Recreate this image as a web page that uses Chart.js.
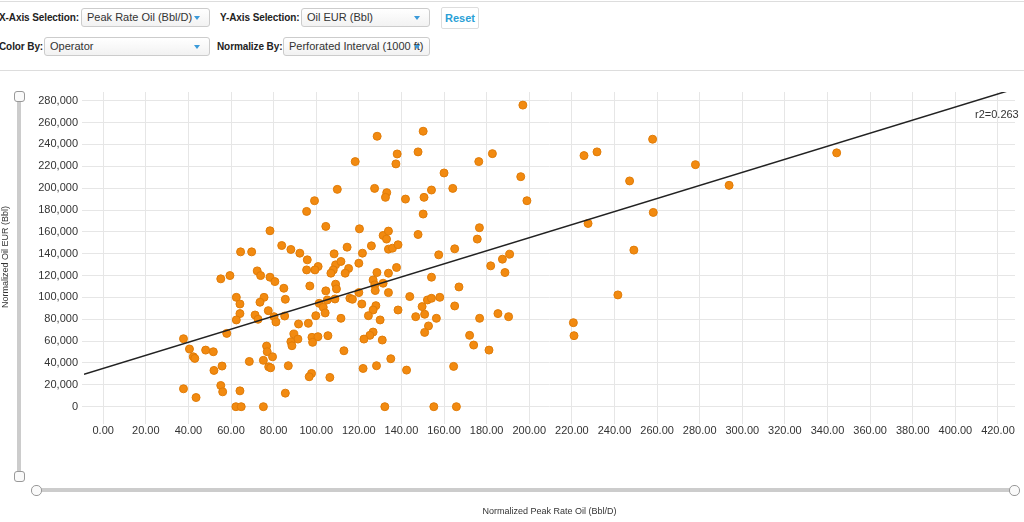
<!DOCTYPE html>
<html>
<head>
<meta charset="utf-8">
<script src="https://cdn.jsdelivr.net/npm/chart.js@4/dist/chart.umd.min.js"></script>
<style>
  body { margin: 0; width: 1024px; height: 522px; overflow: hidden; background: #fff; font-family: "Liberation Sans", Arial, sans-serif; font-size: 11px; color: #222; position: relative; }
  .topline { position: absolute; left: 0; top: 1px; width: 1024px; height: 1px; background: #ddd; }
  .sep { position: absolute; left: 0; top: 70px; width: 1024px; height: 1px; background: #ddd; }
  .lbl { position: absolute; font-weight: bold; font-size: 10px; letter-spacing: -0.1px; }
  .sel { position: absolute; height: 17px; border: 1px solid #ccc; border-radius: 3px; background: linear-gradient(#fff, #f2f2f2); line-height: 17px; padding-left: 5px; box-sizing: content-box; color: #333; }
  .sel:after { content: ""; position: absolute; right: 9px; top: 7px; border-left: 3px solid transparent; border-right: 3px solid transparent; border-top: 4px solid #3a9ad9; }
  .btn { position: absolute; left: 441px; top: 7px; width: 36px; height: 20px; border: 1px solid #ddd; border-radius: 2px; color: #2a9fd6; font-weight: bold; text-align: center; line-height: 20px; background: #fff; }
  #wrap { position: absolute; left: 0; top: 80px; width: 1024px; height: 440px; }
  .r2 { position: absolute; left: 975px; top: 108px; font-size: 11px; color: #333; }
  .vtrack { position: absolute; left: 17px; top: 98px; width: 4px; height: 378px; background: #ccc; }
  .htrack { position: absolute; left: 36px; top: 488px; width: 979px; height: 4px; background: #ccc; }
  .handle { position: absolute; width: 9px; height: 9px; border: 1px solid #999; border-radius: 3px; background: #fafafa; }
</style>
</head>
<body>
<div class="topline"></div>
<div class="lbl" style="left:-1px;top:12px">X-Axis Selection:</div>
<div class="sel" style="left:81px;top:8px;width:122px">Peak Rate Oil (Bbl/D)</div>
<div class="lbl" style="left:220px;top:12px">Y-Axis Selection:</div>
<div class="sel" style="left:301px;top:8px;width:122px">Oil EUR (Bbl)</div>
<div class="btn">Reset</div>
<div class="lbl" style="left:-1px;top:41px">Color By:</div>
<div class="sel" style="left:44px;top:37px;width:159px">Operator</div>
<div class="lbl" style="left:217px;top:41px">Normalize By:</div>
<div class="sel" style="left:283px;top:37px;width:140px">Perforated Interval (1000 ft)</div>
<div class="sep"></div>
<div id="wrap"><canvas id="myChart" width="1024" height="440"></canvas></div>
<div class="r2">r2=0.263</div>
<div class="vtrack"></div>
<div class="handle" style="left:14px;top:91px"></div>
<div class="handle" style="left:14px;top:471px"></div>
<div class="htrack"></div>
<div class="handle" style="left:31px;top:485px;border-radius:5px"></div>
<div class="handle" style="left:1009px;top:485px;border-radius:5px"></div>
<script>
// Normalized peak rate oil (Bbl/D) and normalized oil EUR (Bbl)
const peakRate = [
  104.5, 78.3, 83.8, 88.1, 92.3, 108.4, 64.5, 69.7, 95.8, 109.1, 100.9, 99.4, 95.5, 108.0, 106.9, 72.3, 73.9, 59.5, 55.2, 78.3,
  80.6, 84.8, 97.0, 109.1, 104.5, 109.5, 62.5, 75.5, 85.5, 73.6, 64.2, 105.2, 108.8, 101.4, 103.3, 77.5, 64.2, 104.2, 71.3, 72.7,
  80.2, 85.2, 99.8, 62.5, 81.1, 91.7, 96.3, 58.0, 89.5, 91.4, 98.0, 100.8, 105.5, 37.7, 88.1, 88.6, 98.3, 76.7, 40.5, 48.1,
  51.7, 77.0, 42.3, 43.0, 79.5, 68.6, 75.2, 77.7, 78.6, 86.9, 55.8, 52.0, 97.8, 96.7, 106.4, 55.2, 37.7, 56.1, 64.2, 85.5,
  43.6, 62.3, 64.8, 75.2,
  120.3, 131.4, 133.9, 133.0, 133.9, 135.8, 138.4, 147.8, 176.6, 175.6, 114.5, 125.9, 121.7, 157.5, 165.0, 111.6, 120.0, 115.2, 113.6, 128.5,
  133.9, 137.7, 181.9, 187.4, 188.6, 190.8, 126.7, 127.5, 131.4, 154.1, 167.0, 120.0, 127.7, 133.9, 115.8, 117.0, 121.4, 128.0, 126.7, 143.9,
  152.2, 154.1, 158.0, 149.7, 165.0, 138.4, 124.5, 111.6, 130.0, 146.7, 150.9, 156.4, 176.7, 185.3, 190.3, 152.7, 150.9, 126.7, 125.2, 122.4,
  131.0, 172.0, 173.9, 181.1, 113.0, 135.0, 128.3, 122.0, 142.4, 164.5, 132.2, 155.2, 165.8,
  197.0, 150.2, 128.6, 138.0, 147.8, 182.7, 118.3, 137.4, 176.3, 160.0, 109.9, 127.4, 133.1, 132.5, 141.9, 150.6, 154.1, 164.1, 99.2, 95.5,
  150.2, 196.0, 198.9,
  257.9, 225.7, 231.8, 278.0, 247.1, 293.8, 258.2, 227.6, 249.1, 241.6, 220.7, 221.0, 344.3
];
const oilEur = [
  165000, 161000, 147500, 143900, 140500, 139900, 141700, 141700, 134400, 129800, 128300, 125200, 125200, 125200, 122200, 124300, 120000, 120000, 117000, 118500,
  114500, 108400, 110500, 112100, 106000, 107800, 100100, 100100, 98300, 95600, 94000, 97700, 98600, 94600, 91000, 87900, 85200, 85800, 83900, 80000,
  82400, 83000, 83300, 79400, 77500, 75700, 76300, 67100, 66500, 61900, 63500, 64100, 65000, 62200, 59500, 55800, 58900, 55500, 52800, 51800,
  50300, 50300, 45700, 44200, 45700, 41400, 42400, 36500, 35600, 37500, 37200, 33200, 30400, 27400, 26800, 19400, 16400, 13600, 14500, 12400,
  8400, 0, 0, 0,
  162800, 156700, 160700, 153400, 144200, 145100, 148200, 157600, 163800, 153400, 146000, 147200, 140500, 139000, 144500, 132900, 131300, 126500, 122200, 122800,
  122200, 127400, 128900, 135000, 122800, 139600, 116000, 111500, 113000, 118500, 109600, 104400, 106300, 104400, 99200, 98300, 94000, 92500, 88500, 100800,
  97700, 99200, 100100, 91600, 92200, 88500, 83300, 80900, 79400, 82400, 84600, 80900, 80900, 85200, 82400, 73900, 68000, 68300, 65300, 61900,
  61000, 65300, 56400, 51800, 51200, 43900, 37500, 35000, 33500, 36900, 0, 0, 0,
  276000, 252100, 247500, 231300, 233200, 231600, 224300, 222200, 224300, 213900, 198900, 199800, 195900, 191600, 190000, 191600, 198300, 199800, 188500, 178700,
  176300, 210500, 188500,
  244800, 229800, 233200, 221500, 206600, 202600, 177800, 167700, 143300, 102300, 76900, 65000, 232300
];
// tick values shown on the axes
const xTicks = [0, 20, 40, 60, 80, 100, 120, 140, 160, 180, 200, 220, 240, 260, 280, 300, 320, 340, 360, 380, 400, 420];
const yTicks = [0, 20000, 40000, 60000, 80000, 100000, 120000, 140000, 160000, 180000, 200000, 220000, 240000, 260000, 280000];
// regression line end points
const trendX = [-9, 428];
const trendY = [29600, 291000];

const points = peakRate.map((x, i) => ({ x: x, y: oilEur[i] }));
const trend = trendX.map((x, i) => ({ x: x, y: trendY[i] }));

const tickFont = { family: 'Liberation Sans', size: 11 };

new Chart(document.getElementById('myChart'), {
    type: 'scatter',
    data: {
        datasets: [{
            type: 'line',
            data: trend,
            borderColor: '#222',
            borderWidth: 1.5,
            pointRadius: 0,
            fill: false
        }, {
            data: points,
            backgroundColor: '#f28a10',
            borderColor: '#e07c08',
            borderWidth: 1,
            pointRadius: 4,
            pointHoverRadius: 4
        }]
    },
    options: {
        responsive: false,
        animation: false,
        events: [],
        layout: { padding: { top: 12, right: 9, left: 0, bottom: 0 } },
        plugins: { legend: { display: false }, tooltip: { enabled: false } },
        scales: {
            x: {
                type: 'linear',
                min: -9,
                max: 428,
                afterBuildTicks: s => { s.ticks = xTicks.map(v => ({ value: v })); },
                afterFit: s => { s.height = 98; },
                ticks: { color: '#333', font: tickFont, padding: 0, maxRotation: 0, autoSkip: false, callback: v => v.toFixed(2) },
                grid: { color: '#e6e6e6', tickLength: 2 },
                border: { display: false },
                title: { display: true, text: 'Normalized Peak Rate Oil (Bbl/D)', color: '#333', font: { family: 'Liberation Sans', size: 9 }, padding: { top: 60, bottom: 3 } }
            },
            y: {
                min: -14000,
                max: 288000,
                afterBuildTicks: s => { s.ticks = yTicks.map(v => ({ value: v })); },
                afterFit: s => { s.width = 84; },
                ticks: { color: '#333', font: tickFont, padding: 4, autoSkip: false, callback: v => v.toLocaleString('en-US') },
                grid: { color: '#e6e6e6', tickLength: 2 },
                border: { display: false },
                title: { display: true, text: 'Normalized Oil EUR (Bbl)', color: '#333', font: { family: 'Liberation Sans', size: 9 }, padding: { top: 0, bottom: 0, left: 2 } }
            }
        }
    }
});
</script>
</body>
</html>
